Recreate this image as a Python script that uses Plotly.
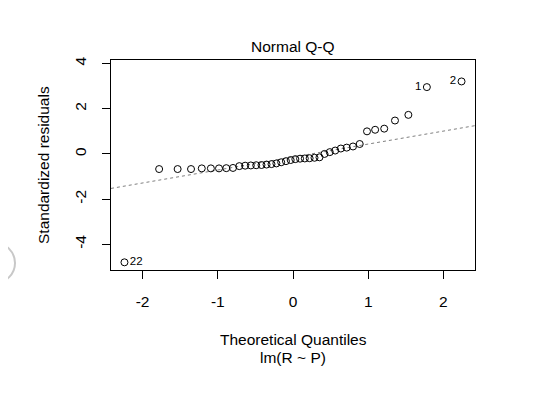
import numpy as np
import plotly.graph_objects as go

# Theoretical normal quantiles (n = 40)
theoretical = [-2.241, -1.780, -1.534, -1.356, -1.213, -1.092, -0.984, -0.887,
               -0.798, -0.714, -0.636, -0.561, -0.489, -0.419, -0.352, -0.286,
               -0.221, -0.157, -0.094, -0.031, 0.031, 0.094, 0.157, 0.221,
               0.286, 0.352, 0.419, 0.489, 0.561, 0.636, 0.714, 0.798,
               0.887, 0.984, 1.092, 1.213, 1.356, 1.534, 1.780, 2.241]

# Standardized residuals (sorted)
std_resid = [-4.80, -0.67, -0.67, -0.67, -0.64, -0.64, -0.64, -0.63,
             -0.62, -0.54, -0.52, -0.51, -0.50, -0.49, -0.47, -0.45,
             -0.42, -0.37, -0.32, -0.27, -0.23, -0.21, -0.20, -0.19,
             -0.17, -0.15, 0.00, 0.08, 0.15, 0.24, 0.28, 0.33,
             0.44, 1.00, 1.07, 1.12, 1.48, 1.73, 2.96, 3.21]

# Observation labels for the three most extreme residuals
point_ids = ["22"] + [""] * 37 + ["1", "2"]
label_pos = ["middle right"] + ["middle left"] * 39

x_ticks = [-2, -1, 0, 1, 2]
y_ticks = [-4, -2, 0, 2, 4]

x_range = [-2.42, 2.42]
y_range = [-5.14, 4.16]

# qqline through the 1st and 3rd quartiles
q_norm = [-0.6745, 0.6745]
y25, y75 = np.quantile(std_resid, [0.25, 0.75])
slope = (y75 - y25) / (q_norm[1] - q_norm[0])
intercept = y25 - slope * q_norm[0]
line_x = x_range
line_y = [intercept + slope * v for v in line_x]

FONT = "Liberation Sans, Arial, sans-serif"

fig = go.Figure()
fig.add_trace(go.Scatter(
    x=line_x, y=line_y, mode="lines",
    line=dict(color="#808080", width=1, dash="dot"),
    hoverinfo="skip", showlegend=False, cliponaxis=True))
fig.add_trace(go.Scatter(
    x=theoretical, y=std_resid, mode="markers+text",
    text=point_ids, textposition=label_pos,
    textfont=dict(family=FONT, size=11.5, color="black"),
    marker=dict(symbol="circle-open", size=7, color="black",
                line=dict(color="black", width=1)),
    showlegend=False, cliponaxis=False))

axis_common = dict(showgrid=False, zeroline=False, showline=True, mirror=True,
                   linecolor="black", linewidth=1, ticks="outside", ticklen=8,
                   tickcolor="black", tickwidth=1,
                   tickfont=dict(family=FONT, size=15.5, color="black"))

fig.update_xaxes(range=x_range, tickvals=x_ticks, ticktext=[str(v) for v in x_ticks],
                 ticklabelstandoff=9, **axis_common)
fig.update_yaxes(range=y_range, tickvals=y_ticks, ticktext=[str(v) for v in y_ticks],
                 tickangle=-90, ticklabelstandoff=10, **axis_common)

annotations = [
    dict(text="Normal Q-Q", x=0.5, y=1.063, xref="paper", yref="paper",
         showarrow=False, xanchor="center", yanchor="middle",
         font=dict(family=FONT, size=15.5, color="black")),
    dict(text="Theoretical Quantiles", x=0.5, y=-0.3286, xref="paper", yref="paper",
         showarrow=False, xanchor="center", yanchor="middle",
         font=dict(family=FONT, size=15.5, color="black")),
    dict(text="lm(R ~ P)", x=0.5, y=-0.419, xref="paper", yref="paper",
         showarrow=False, xanchor="center", yanchor="middle",
         font=dict(family=FONT, size=15.5, color="black")),
    dict(text="Standardized residuals", x=-0.1868, y=0.5, xref="paper", yref="paper",
         showarrow=False, xanchor="center", yanchor="middle", textangle=-90,
         font=dict(family=FONT, size=15.5, color="black")),
]

fig.update_layout(
    width=550, height=393,
    margin=dict(l=103, r=83, t=52, b=131),
    plot_bgcolor="white", paper_bgcolor="white",
    annotations=annotations,
    shapes=[dict(type="circle", xref="paper", yref="paper",
                 x0=-0.3736, x1=-0.2637, y0=-0.0619, y1=0.1286,
                 line=dict(color="#c8c8c8", width=2))],
)

fig.write_html("out.html")
